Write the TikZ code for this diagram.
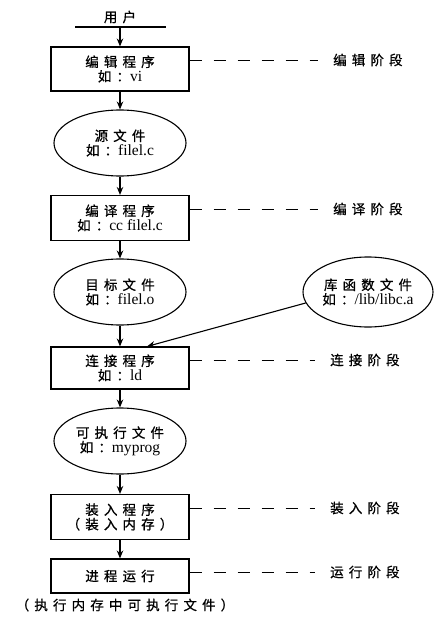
\documentclass[tikz,border=0pt]{standalone}
\usepackage{fontspec}
\setmainfont[LetterSpace=38, FakeBold=0.8]{Noto Sans CJK SC}
\newfontfamily\enfont[Scale=1.15]{Liberation Serif}
\usetikzlibrary{arrows.meta, positioning, shapes.geometric, calc}

\begin{document}
\begin{tikzpicture}[x=1pt, y=-1pt, font=\fontsize{13.5}{14.5}\selectfont,
  prog/.style={draw, line width=1.1pt, minimum width=138pt, align=center, inner sep=0pt},
  file/.style={draw, ellipse, line width=1.1pt, minimum width=132pt,
               minimum height=66pt, align=center, inner sep=0pt},
  stage/.style={anchor=west, inner sep=0pt},
  flow/.style={line width=1.1pt, -{Stealth[length=8pt, width=6.5pt]}},
  stageline/.style={line width=0.9pt, dash pattern=on 12pt off 12pt}]
  \useasboundingbox (0,0) rectangle (444,628);

  % user input
  \node (user) at (120,17) {用户};
  \coordinate (ul) at (75,27);
  \coordinate (ur) at (166,27);
  \coordinate (um) at (120,27);
  \draw[line width=1.1pt] (ul) -- (ur);

  % programs and files
  \node[prog, minimum height=44pt] (edit) at (120,69) {编辑程序\\如：{\enfont vi}};
  \node[file] (src) at (120,143) {源文件\\如：{\enfont filel.c}};
  \node[prog, minimum height=45pt] (comp) at (120,218) {编译程序\\如：{\enfont cc filel.c}};
  \node[file] (obj) at (120,292) {目标文件\\如：{\enfont filel.o}};
  \node[file, minimum width=130pt, minimum height=70pt] (lib) at (368,292)
    {库函数文件\\如：{\enfont /lib/libc.a}};
  \node[prog, minimum height=42pt] (link) at (120,368) {连接程序\\如：{\enfont ld}};
  \node[file] (exe) at (120,441) {可执行文件\\如：{\enfont myprog}};
  \node[prog, minimum height=45pt] (load) at (120,517) {装入程序\\（装入内存）};
  \node[prog, minimum height=34pt] (run) at (120,576) {进程运行};
  \node (note) at (125,605) {（执行内存中可执行文件）};

  % flow
  \draw[flow] (um) -- (edit);
  \draw[flow] (edit) -- (src);
  \draw[flow] (src) -- (comp);
  \draw[flow] (comp) -- (obj);
  \draw[flow] (obj) -- (link);
  \draw[flow] (lib.190) -- ($(link.north)+(27,0)$);
  \draw[flow] (link) -- (exe);
  \draw[flow] (exe) -- (load);
  \draw[flow] (load) -- (run);

  % stages
  \foreach \n/\t/\x/\y in {edit/编辑阶段/333/60, comp/编译阶段/333/209,
      link/连接阶段/330/360, load/装入阶段/330/508, run/运行阶段/330/572} {
    \node[stage] (\n-s) at (\x,\y) {\t};
    \draw[stageline] (\n.east |- \n-s) -- ([xshift=-15pt]\n-s.west);
  }
\end{tikzpicture}
\end{document}
